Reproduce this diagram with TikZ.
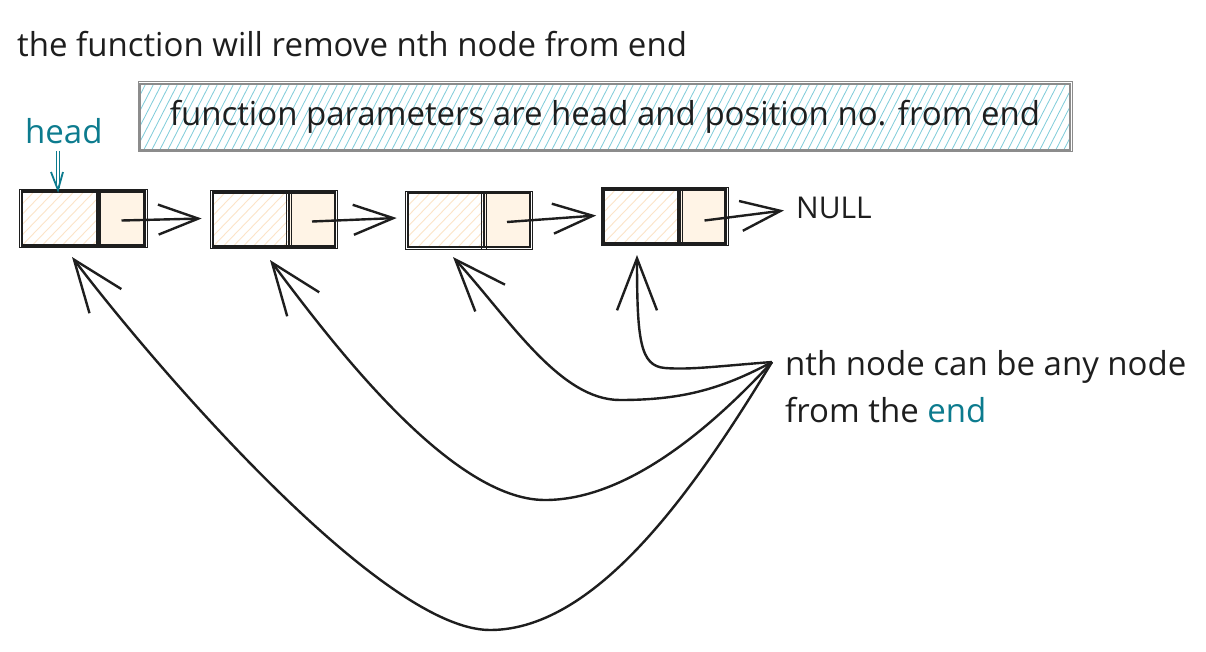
\documentclass[tikz,border=0pt]{standalone}
\usepackage{fontspec}
\setmainfont{Open Sans}
\usetikzlibrary{arrows.meta,calc}
\definecolor{ink}{HTML}{1E1E1E}
\definecolor{headcol}{HTML}{0C7B8E}
\definecolor{hatchblue}{HTML}{7FCCDA}
\definecolor{boxgray}{HTML}{8C8C8C}
\definecolor{cellfill}{HTML}{FFF4E6}
\definecolor{cellhatch}{HTML}{FCE4C8}
\begin{document}
\begin{tikzpicture}[x=1pt,y=-1pt,
  txt/.style={font=\fontsize{33}{40}\selectfont, text=ink, inner sep=0pt},
  cellL/.style={draw=ink, line width=2.6pt, minimum width=76pt, minimum height=54pt, inner sep=0pt,
    path picture={\foreach \i in {-60,-50,...,80}{\draw[cellhatch,line width=0.9pt] ([xshift=\i pt]path picture bounding box.south west) -- ++(60,-62);}}},
  cellR/.style={draw=ink, line width=2.6pt, fill=cellfill, minimum width=46pt, minimum height=54pt, inner sep=0pt},
  rough/.style={draw=ink, line width=1.2pt},
  link/.style={draw=ink, line width=2.4pt, -{Straight Barb[length=40pt,width=30pt,line width=2.4pt]}},
  cur/.style={draw=ink, line width=2.4pt, -{Straight Barb[length=52pt,width=40pt,line width=2.4pt]}}
]
\fill[white] (0,0) rectangle (1206,651);
\useasboundingbox (0,0) rectangle (1206,651);

% title
\node[txt,anchor=base west] (title) at (17,56) {the function will remove nth node from end};

% parameter box
\node[draw=boxgray, line width=2pt, minimum width=930pt, minimum height=66pt, inner sep=0pt, txt,
  path picture={\foreach \i in {-60,-52,...,940}{\draw[hatchblue,line width=0.8pt] ([xshift=\i pt]path picture bounding box.south west) -- ++(36,-70);}}]
  (params) at (605,116.5) {function parameters are head and position no. from end};
\draw[boxgray,line width=1pt] ($(params.south west)+(-1,1)$) rectangle ($(params.north east)+(1,-1)$);

% list cells
\node[cellL] (n1a) at (60,218.5) {};
\node[cellR] (n1b) at (121.5,218.5) {};
\node[cellL] (n2a) at (251,219.5) {};
\node[cellR] (n2b) at (312,219.5) {};
\node[cellL] (n3a) at (446,220) {};
\node[cellR] (n3b) at (507,220) {};
\node[cellL] (n4a) at (641.5,216.5) {};
\node[cellR] (n4b) at (702.5,216.5) {};
\foreach \n in {n1a,n1b,n2a,n2b,n3a,n3b,n4a,n4b}{
  \draw[rough] ($(\n.south west)+(-1,1)$) rectangle ($(\n.north east)+(1.5,-0.5)$);
}

% NULL
\node[txt,font=\fontsize{30}{36}\selectfont,anchor=base west] (null) at (796,218) {NULL};

% links
\draw[link] ($(n1b.center)+(0,2)$) -- ($(n2a.west)+(-10,-1)$);
\draw[link] ($(n2b.center)+(0,2)$) -- ($(n3a.west)+(-10,-2)$);
\draw[link] ($(n3b.center)+(0,2)$) -- ($(n4a.west)+(-6,-1)$);
\draw[link] ($(n4b.center)+(2,4)$) -- ($(null.west)+(-12,3)$);

% head label and pointer
\node[txt,text=headcol,anchor=base west] (head) at (25,143) {head};
\coordinate (hd) at (58,190);
\coordinate (hs) at (hd |- head.south);
\draw[headcol,line width=1.2pt,double=white,double distance=1.4pt,shorten <=7pt,shorten >=2pt] (hs) -- (hd);
\draw[headcol,line width=1.8pt] ($(hd)+(-7,-18)$) -- (hd) -- ($(hd)+(5,-18)$);

% description
\node[txt,anchor=base west] (lbl) at (785,375) {nth node can be any node};
\node[txt,anchor=base west] (lbl2) at (785,422) {from the \textcolor{headcol}{end}};

% curved pointers
\coordinate (src) at (772,362);
\coordinate (t1) at (72,257);
\coordinate (t2) at (270,260);
\coordinate (t3) at (453,257);
\coordinate (t4) at (637,255);
\draw[cur] (src) .. controls (700,480) and (600,630) .. (490,630) .. controls (380,630) and (150,360) .. (t1);
\draw[cur] (src) .. controls (700,440) and (620,500) .. (545,500) .. controls (450,500) and (330,340) .. (t2);
\draw[cur] (src) .. controls (720,390) and (680,400) .. (620,400) .. controls (560,400) and (510,320) .. (t3);
\draw[cur] (src) .. controls (720,366) and (690,370) .. (665,368) .. controls (640,366) and (637,340) .. (t4);
\end{tikzpicture}
\end{document}
